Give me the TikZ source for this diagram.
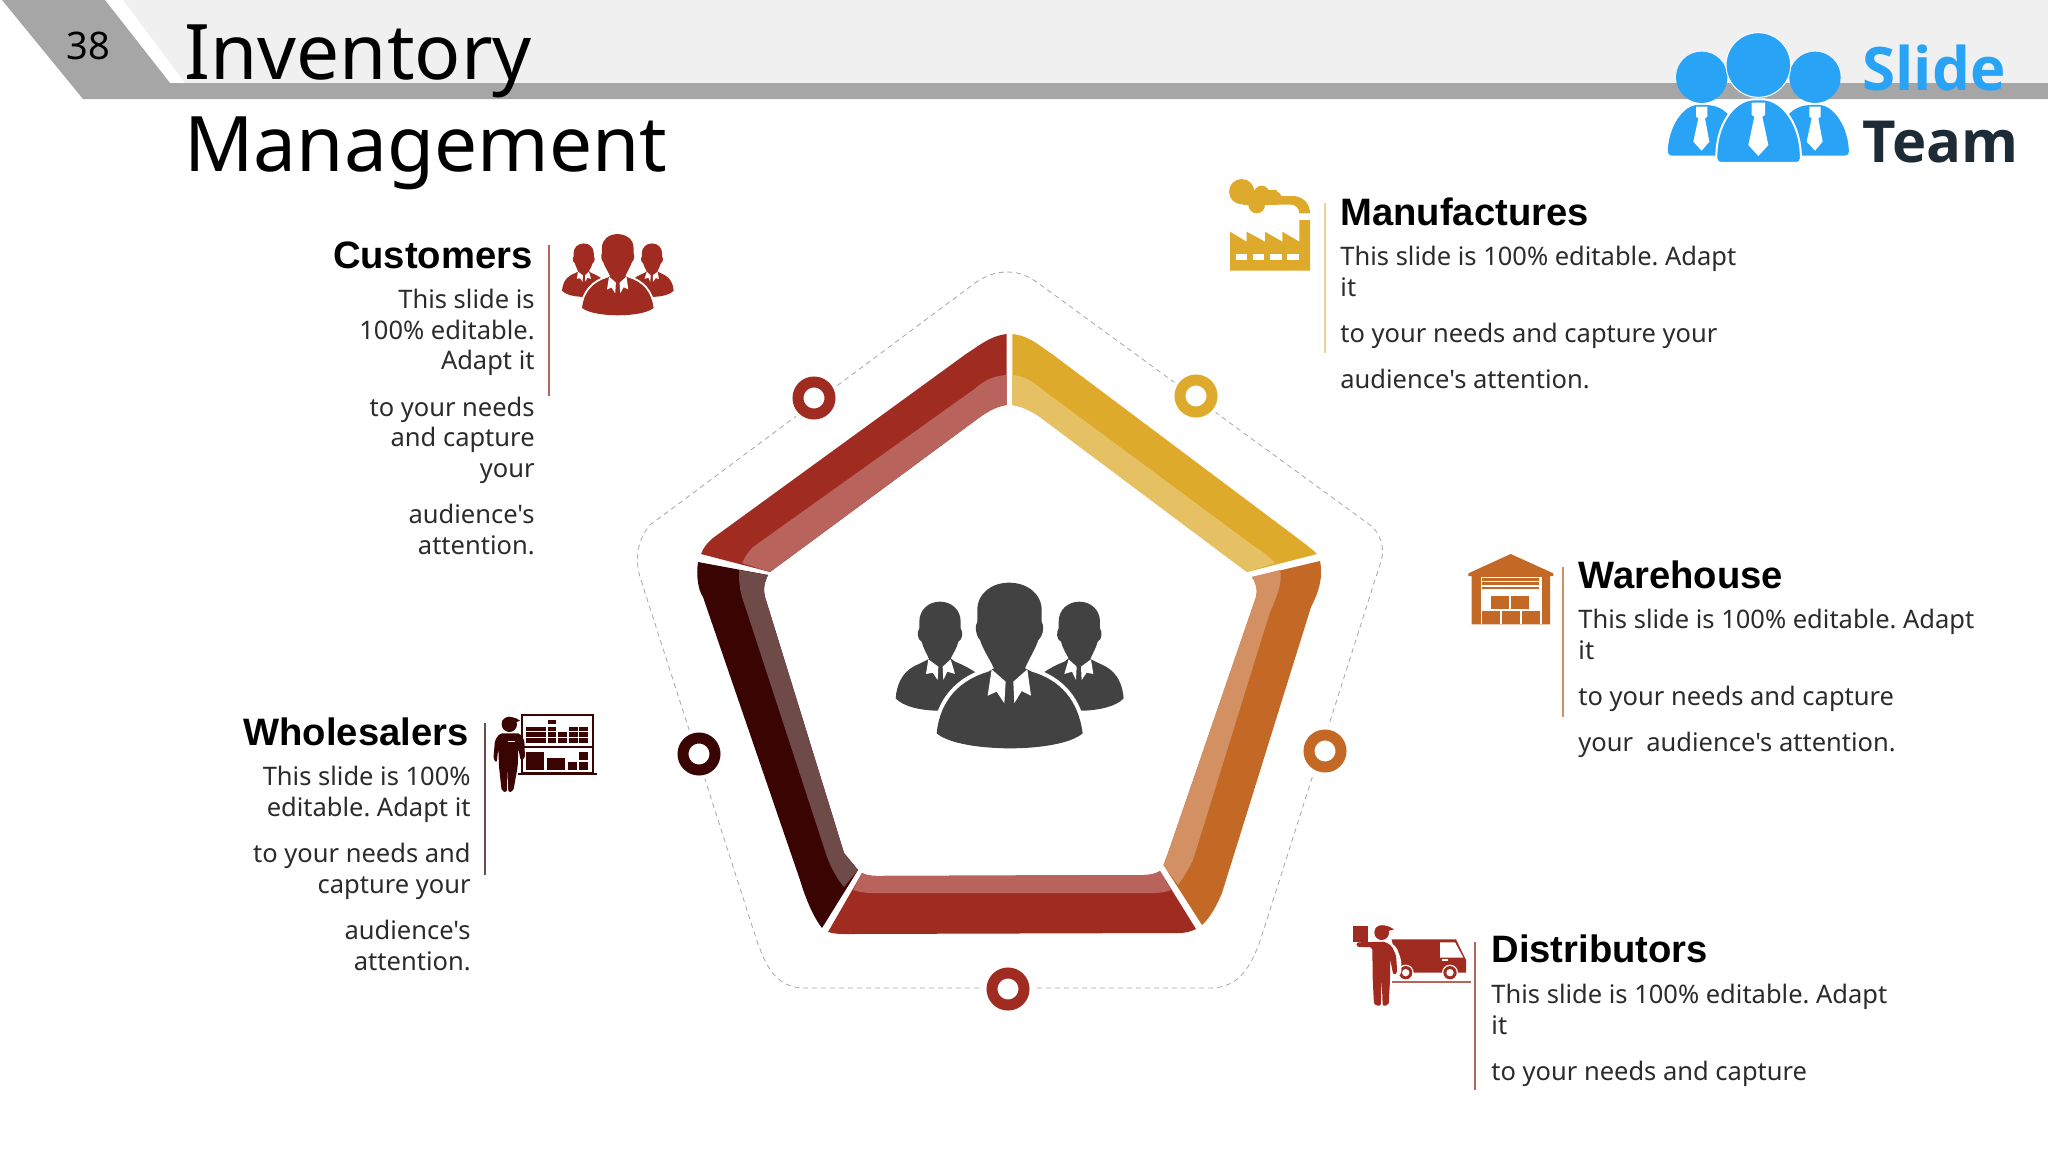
\documentclass[tikz,border=0pt]{standalone}
\usepackage{fontspec}
\setmainfont{Noto Sans}
\newfontfamily\headfont{Liberation Sans}
\newfontfamily\bodyfont{Noto Sans}
\newfontfamily\logofont{Open Sans}
\frenchspacing
\definecolor{barlight}{HTML}{F0F0F0}
\definecolor{bargray}{HTML}{A6A6A6}
\definecolor{brick}{HTML}{A02B20}
\definecolor{bricklight}{HTML}{B8635C}
\definecolor{gold}{HTML}{DEAA2B}
\definecolor{goldlight}{HTML}{E6C163}
\definecolor{rust}{HTML}{C36925}
\definecolor{rustlight}{HTML}{D29063}
\definecolor{maroon}{HTML}{3A0403}
\definecolor{maroonlight}{HTML}{6E4A48}
\definecolor{iconcentre}{HTML}{424242}
\definecolor{logoblue}{HTML}{29A3F5}
\definecolor{logoink}{HTML}{1C2B36}
\definecolor{bodyink}{HTML}{2B2B2B}
\tikzset{
	titletext/.style={anchor=base west, inner sep=0pt, font=\fontsize{38.3}{38.3}\selectfont},
	headright/.style={anchor=base east, inner sep=0pt, font=\headfont\bfseries\fontsize{19.1}{19.1}\selectfont},
	headleft/.style={anchor=base west, inner sep=0pt, font=\headfont\bfseries\fontsize{19.1}{19.1}\selectfont},
	bodyright/.style={anchor=north east, inner sep=0pt, align=right, text=bodyink, font=\bodyfont\fontsize{12.75}{15.5}\selectfont},
	bodyleft/.style={anchor=north west, inner sep=0pt, align=left, text=bodyink, font=\bodyfont\fontsize{12.75}{15.5}\selectfont},
	logotext/.style={anchor=base west, inner sep=0pt, font=\logofont\bfseries\fontsize{#1}{#1}\selectfont},
	ring/.style={circle, inner sep=0pt, minimum size=16pt, fill=white, draw=#1, line width=5.5pt,
		preaction={draw=white, line width=9.5pt}},
	siderule/.style={line width=0.75pt, draw=#1},
	dashline/.style={draw=bargray, line width=0.4pt, dash pattern=on 2.5pt off 2pt},
}
\newcommand{\sideman}{
	\fill (240,125) .. controls (275,125) and (302,150) .. (302,185) -- (302,205)
		.. controls (310,215) and (308,240) .. (295,245) .. controls (290,265) and (280,280) .. (272,295)
		-- (285,305) .. controls (310,315) and (330,325) .. (350,340) -- (260,450) -- (225,452)
		.. controls (180,450) and (130,440) .. (107,415) .. controls (110,375) and (125,340) .. (160,320)
		-- (207,297) .. controls (200,280) and (190,265) .. (185,245) .. controls (172,240) and (170,215) .. (178,205)
		-- (178,185) .. controls (178,150) and (205,125) .. (240,125) -- cycle;
	\fill[white] (205,298) -- (198,342) -- (218,338) -- (233,360) -- (235,320) -- cycle;
	\fill[white] (272,298) -- (285,342) -- (262,335) -- (250,360) -- (248,320) -- cycle;
}
\newcommand{\peoplefig}[4]{
	\begin{scope}[shift={(#1,#2)}, scale=#3*0.3333, color=#4]
		\sideman
		\begin{scope}[shift={(898,0)}, xscale=-1]
			\sideman
		\end{scope}
		\fill[preaction={draw=white, line width=#3*4pt}] (447,68) .. controls (500,68) and (545,100) .. (545,150) -- (545,185)
			.. controls (552,195) and (552,225) .. (535,240) .. controls (525,270) and (510,290) .. (495,325)
			-- (515,335) .. controls (600,360) and (655,420) .. (668,520) .. controls (600,580) and (300,580) .. (230,520)
			.. controls (240,420) and (300,360) .. (385,335) -- (402,325) .. controls (385,290) and (370,270) .. (360,240)
			.. controls (345,225) and (345,195) .. (352,185) -- (352,150) .. controls (352,100) and (395,68) .. (447,68) -- cycle;
		\fill[white] (395,328) -- (383,407) -- (410,395) -- (433,430) -- (437,365) -- cycle;
		\fill[white] (502,328) -- (513,407) -- (485,393) -- (463,430) -- (460,365) -- cycle;
	\end{scope}
}
\begin{document}
\begin{tikzpicture}[x=0.5pt, y=-0.5pt]
	\useasboundingbox (0,0) rectangle (2048,1152);

	\fill[barlight] (123,0) -- (185,83) -- (2048,83) -- (2048,0) -- cycle;
	\fill[bargray] (2,0) -- (105,0) -- (170,83) -- (2048,83) -- (2048,99) -- (83,99) -- cycle;
	\node[anchor=base, inner sep=0pt, font=\fontsize{19}{19}\selectfont] (pagenum) at (88,59) {38};
	\node[titletext] (titleone) at (184,79) {Inventory};
	\node[titletext] (titletwo) at (184,171) {Management};

	% logo
	\begin{scope}[shift={(1640,0)}, scale=0.3333]
		\fill[logoblue] (185,232) circle (77);
		\fill[logoblue] (525,232) circle (77);
		\fill[logoblue, draw=white, line width=0.5pt] (355,195) circle (97);
		\fill[logoblue, rounded corners=2pt] (83,467) .. controls (85,380) and (130,315) .. (185,315) .. controls (240,315) and (270,340) .. (280,380) -- (280,467) -- cycle;
		\fill[logoblue, rounded corners=2pt] (627,467) .. controls (625,380) and (580,315) .. (525,315) .. controls (470,315) and (440,340) .. (430,380) -- (430,467) -- cycle;
		\fill[logoblue, draw=white, line width=1pt, rounded corners=2pt] (230,489) .. controls (225,380) and (280,298) .. (355,298) .. controls (430,298) and (485,380) .. (482,489) -- cycle;
		\fill[white] (168,320) -- (202,320) -- (202,350) -- (195,355) -- (208,425) -- (185,452) -- (160,425) -- (175,355) -- (168,350) -- cycle;
		\fill[white] (508,320) -- (542,320) -- (542,350) -- (535,355) -- (548,425) -- (525,452) -- (500,425) -- (515,355) -- (508,350) -- cycle;
		\fill[white] (335,308) -- (375,308) -- (375,345) -- (367,350) -- (385,435) -- (355,468) -- (325,435) -- (343,350) -- (335,345) -- cycle;
	\end{scope}
	\node[logotext=30, text=logoblue] (logoslide) at (1862,90) {Slide};
	\node[logotext=29, text=logoink] (logoteam) at (1862,162) {Team};

	% outline
	\draw[dashline] (1007,272) .. controls (1020,272) and (1028,276) .. (1038,283) -- (1370,525)
		.. controls (1380,533) and (1384,545) .. (1382,558) -- (1262,935)
		.. controls (1252,965) and (1240,988) .. (1210,988) -- (805,988)
		.. controls (775,988) and (765,965) .. (755,935) -- (640,577)
		.. controls (635,560) and (637,540) .. (650,525) -- (975,283)
		.. controls (985,276) and (995,272) .. (1007,272) -- cycle;

	% pentagon
	\fill[brick] (1006.7,334) .. controls (990,336) and (980,345) .. (966,354) -- (713,538) .. controls (708,542) and (703,548) .. (701,554)
		-- (770,572) -- (980,417) .. controls (990,410) and (998,406) .. (1006.7,405) -- cycle;
	\fill[bricklight] (1006.7,375) .. controls (990,376) and (983,382) .. (973,390) -- (753,547) .. controls (748,552) and (745,557) .. (742,563)
		-- (770,572) -- (980,417) .. controls (990,410) and (998,406) .. (1006.7,405) -- cycle;

	\fill[gold] (1012.3,334) .. controls (1030,336) and (1038,345) .. (1052,354) -- (1300,540) .. controls (1308,546) and (1313,550) .. (1317,554)
		-- (1247,572) -- (1040,417) .. controls (1030,410) and (1020,406) .. (1012.3,405) -- cycle;
	\fill[goldlight] (1012.3,375) .. controls (1025,376) and (1033,382) .. (1043,390) -- (1255,547) .. controls (1265,553) and (1270,558) .. (1275,563)
		-- (1247,572) -- (1040,417) .. controls (1030,410) and (1020,406) .. (1012.3,405) -- cycle;

	\fill[rust] (1320,561) .. controls (1323,575) and (1320,590) .. (1311,607) -- (1222,893) .. controls (1217,905) and (1210,918) .. (1202,925)
		-- (1163.5,865) -- (1168,853) -- (1256,597) .. controls (1258,590) and (1256,583) .. (1252,577) -- cycle;
	\fill[rustlight] (1280,570) .. controls (1282,580) and (1280,590) .. (1270,612) -- (1193,860) .. controls (1188,870) and (1183,878) .. (1178,885)
		-- (1163.5,865) -- (1168,853) -- (1256,597) .. controls (1258,590) and (1256,583) .. (1252,577) -- cycle;

	\fill[maroon] (698,562) .. controls (696,575) and (698,590) .. (703,597) -- (800,880) .. controls (806,900) and (814,918) .. (822,928)
		-- (858,870) -- (844,853) -- (765,597) .. controls (763,590) and (764,583) .. (768,575) -- cycle;
	\fill[maroonlight] (739,570) .. controls (739,580) and (739,590) .. (744,603) -- (827,857) .. controls (832,870) and (838,880) .. (844,887)
		-- (858,870) -- (844,853) -- (765,597) .. controls (763,590) and (764,583) .. (768,575) -- cycle;

	\fill[brick] (828,932) .. controls (835,934) and (840,934) .. (848,934) -- (1178,933) .. controls (1185,933) and (1190,932) .. (1196,929)
		-- (1160,871) .. controls (1155,874) and (1150,875) .. (1144,875) -- (877.5,876) .. controls (870,876) and (866,875) .. (862,873) -- cycle;
	\fill[bricklight] (853,890) .. controls (858,892) and (865,893) .. (873,893) -- (1154,893) .. controls (1160,893) and (1166,892) .. (1171,890)
		-- (1160,871) .. controls (1155,874) and (1150,875) .. (1144,875) -- (877.5,876) .. controls (870,876) and (866,875) .. (862,873) -- cycle;

	\node[ring=brick] (ringcustomers) at (814,398) {};
	\node[ring=gold] (ringmanufactures) at (1196,396) {};
	\node[ring=rust] (ringwarehouse) at (1325,751) {};
	\node[ring=brick] (ringdistributors) at (1008,989) {};
	\node[ring=maroon] (ringwholesalers) at (699,754) {};

	\peoplefig{860}{560}{1}{iconcentre}
	\peoplefig{544.5}{223}{0.49}{brick}

	% customers
	\node[headright] (customershead) at (533,268) {Customers};
	\node[bodyright, font=\bodyfont\fontsize{12.75}{15.3}\selectfont] (customersbody) at (535,289) {This slide is\\100\% editable.\\Adapt it\\[7.8pt]to your needs\\and capture\\your\\[7.8pt]audience's\\attention.};
	\draw[siderule=bricklight] (549,245) -- (549,396);

	% manufactures
	\node[headleft] (manufactureshead) at (1340,225) {Manufactures};
	\node[bodyleft] (manufacturesbody) at (1340,246) {This slide is 100\% editable. Adapt\\it\\[7.5pt]to your needs and capture your\\[7.5pt]audience's attention.};
	\draw[siderule=goldlight!70] (1325,203) -- (1325,353);
	\begin{scope}[shift={(1210,170)}, scale=0.3333, color=gold]
		\fill (95,65) circle (38);
		\fill (140,105) circle (25);
		\fill (155,70) circle (23);
		\fill (195,84) circle (20);
		\fill (100,60) rectangle (200,104);
		\fill (190,78) -- (250,78) .. controls (280,80) and (300,100) .. (300,130) -- (268,130) .. controls (268,115) and (255,104) .. (245,104) -- (190,104) -- cycle;
		\fill (60,185) -- (110,215) -- (110,185) -- (165,215) -- (165,185) -- (217,215) -- (217,185) -- (268,215) -- (268,150) -- (300,150) -- (300,302) -- (60,302) -- cycle;
		\foreach \winx in {77,128,180,232}
			\fill[white] (\winx,252) rectangle ++(35,18);
	\end{scope}

	% warehouse
	\node[headleft] (warehousehead) at (1578,588) {Warehouse};
	\node[bodyleft] (warehousebody) at (1578,609) {This slide is 100\% editable. Adapt\\it\\[7.5pt]to your needs and capture\\[7.5pt]your\ \ audience's attention.};
	\draw[siderule=rustlight] (1563,567) -- (1563,717);
	\begin{scope}[shift={(1450,540)}, scale=0.3333, color=rust]
		\fill (55,100) -- (182,42) -- (310,100) -- (310,108) -- (300,108) -- (300,253) -- (65,253) -- (65,108) -- (55,108) -- cycle;
		\fill[white] (92,110) rectangle (275,253);
		\foreach \stripy in {115,127,140}
			\fill (97,\stripy) rectangle ++(170,8);
		\fill (123,168) rectangle (176,208);
		\fill (183,168) rectangle (236,208);
		\fill (97,214) rectangle (150,253);
		\fill (156,214) rectangle (209,253);
		\fill (216,214) rectangle (270,253);
	\end{scope}

	% wholesalers
	\node[headright] (wholesalershead) at (469,745) {Wholesalers};
	\node[bodyright] (wholesalersbody) at (471,766) {This slide is 100\%\\editable. Adapt it\\[7.5pt]to your needs and\\capture your\\[7.5pt]audience's\\attention.};
	\draw[siderule=maroonlight] (485,723) -- (485,875);
	\begin{scope}[shift={(480,690)}, scale=0.3333, color=maroon]
		\draw[line width=1pt] (125,75) rectangle (340,250);
		\draw[line width=1pt] (125,172) -- (340,172);
		\fill (115,248) rectangle (350,255);
		\foreach \boxy in {110,127,145} {
			\fill (137,\boxy) rectangle ++(60,13);
			\fill (203,\boxy) rectangle ++(25,13);
			\fill (268,\boxy) rectangle ++(25,13);
			\fill (298,\boxy) rectangle ++(27,13);
		}
		\fill (203,90) rectangle ++(25,13);
		\fill (235,127) rectangle ++(27,13);
		\fill (235,145) rectangle ++(27,13);
		\fill (137,185) rectangle (192,240);
		\fill (200,203) rectangle (255,240);
		\fill (265,215) rectangle (292,240);
		\fill (298,185) rectangle (325,210);
		\fill (298,215) rectangle (325,240);
		\fill (88,103) circle (23);
		\fill (66,92) .. controls (85,76) and (105,80) .. (120,92) -- (100,100) -- cycle;
		\fill[rounded corners=1pt] (60,130) -- (120,130) -- (133,150) -- (135,205) -- (122,212) -- (115,175) -- (113,230) -- (100,303) -- (85,307) -- (83,235) -- (80,307) -- (65,303) -- (57,230) -- (55,175) -- (50,218) -- (40,208) -- (45,150) -- cycle;
		\fill[white] (85,153) rectangle (105,157);
	\end{scope}

	% distributors
	\node[headleft] (distributorshead) at (1491,962) {Distributors};
	\node[bodyleft] (distributorsbody) at (1491,984) {This slide is 100\% editable. Adapt\\it\\[7.5pt]to your needs and capture};
	\draw[siderule=bricklight] (1475,942) -- (1475,1090);
	\begin{scope}[shift={(1340,910)}, scale=0.3333, color=brick]
		\fill (155,88) -- (348,88) -- (378,150) -- (378,188) -- (175,188) -- cycle;
		\fill[white] (300,97) -- (345,97) -- (370,143) -- (300,143) -- cycle;
		\fill[white] (305,148) rectangle (325,153);
		\foreach \wheelx in {197,330} {
			\fill[white] (\wheelx,188) circle (24);
			\fill (\wheelx,188) circle (20);
			\fill[white] (\wheelx,188) circle (11);
		}
		\fill[bricklight] (157,212) rectangle (393,218);
		\fill (38,48) rectangle (85,97);
		\fill (125,68) circle (22);
		\fill (105,55) .. controls (120,40) and (145,45) .. (162,58) -- (140,64) -- cycle;
		\fill[white, rounded corners=2pt] (140,92) -- (168,108) -- (184,150) -- (184,197) -- (160,197) -- cycle;
		\fill[rounded corners=1pt] (50,97) -- (135,95) -- (155,108) -- (168,135) -- (172,190) -- (160,195) -- (150,145) -- (150,210) -- (146,285) -- (128,288) -- (125,205) -- (122,288) -- (102,285) -- (98,205) -- (97,112) -- (50,110) -- cycle;
	\end{scope}
\end{tikzpicture}
\end{document}
